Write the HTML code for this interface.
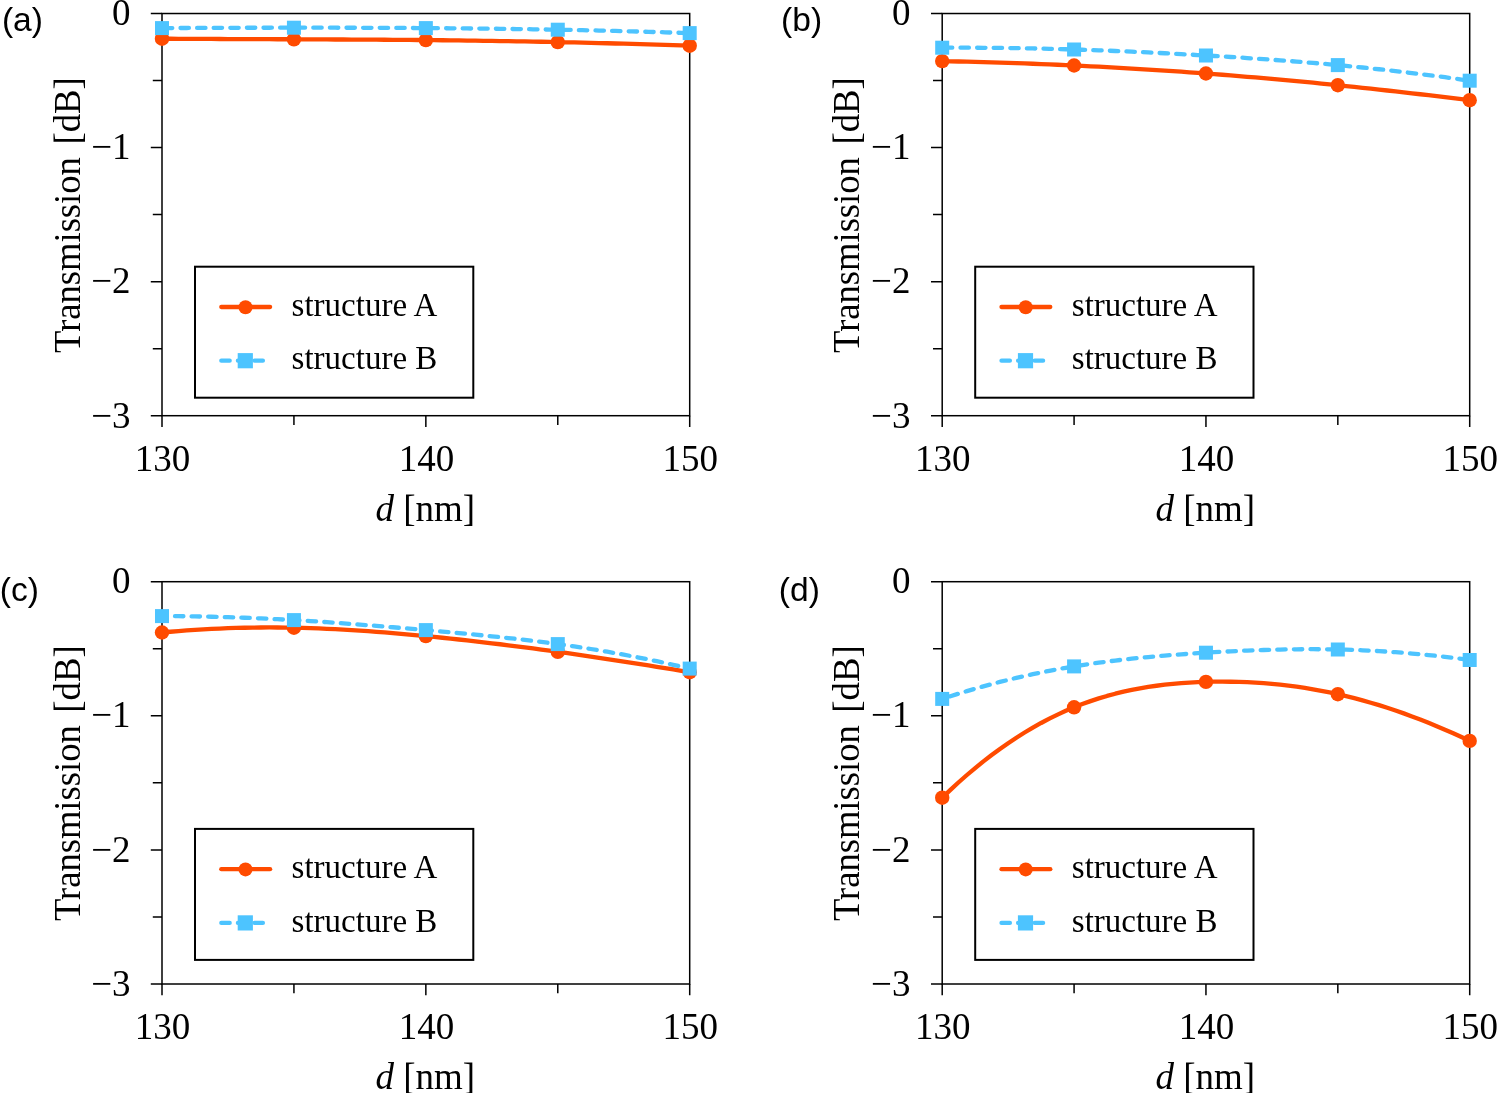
<!DOCTYPE html>
<html lang="en">
<head>
<meta charset="utf-8">
<title>Transmission vs d</title>
<style>
html,body{margin:0;padding:0;background:#fff;}
body{width:1497px;height:1093px;overflow:hidden;}
svg{display:block;}
.tk{font-family:"Liberation Serif", serif;font-size:37.0px;fill:#000;}
.lb{font-family:"Liberation Serif", serif;font-size:37.0px;fill:#000;}
.lg{font-family:"Liberation Serif", serif;font-size:33.0px;fill:#000;}
.pl{font-family:"Liberation Sans", sans-serif;font-size:33.6px;fill:#000;}
</style>
</head>
<body>
<svg width="1497" height="1093" viewBox="0 0 1497 1093">
<rect x="0" y="0" width="1497" height="1093" fill="#fff"/>
<g class="panel">
<rect x="162" y="13.52" width="527.7" height="402.18" fill="none" stroke="#000" stroke-width="1.5"/>
<path d="M162 13.52h-11.2 M162 80.55h-9.2 M162 147.58h-11.2 M162 214.61h-9.2 M162 281.64h-11.2 M162 348.67h-9.2 M162 415.7h-11.2 M162 415.7v11.2 M293.93 415.7v9.2 M425.85 415.7v11.2 M557.78 415.7v9.2 M689.7 415.7v11.2" stroke="#000" stroke-width="1.5" fill="none"/>
<path d="M162 38.7 L170.25 38.75 L178.49 38.8 L186.74 38.84 L194.98 38.89 L203.23 38.93 L211.47 38.96 L219.72 39 L227.96 39.04 L236.21 39.07 L244.45 39.11 L252.7 39.14 L260.94 39.17 L269.19 39.2 L277.43 39.24 L285.68 39.27 L293.93 39.3 L302.17 39.33 L310.42 39.37 L318.66 39.4 L326.91 39.44 L335.15 39.48 L343.4 39.52 L351.64 39.56 L359.89 39.61 L368.13 39.66 L376.38 39.71 L384.62 39.76 L392.87 39.82 L401.11 39.88 L409.36 39.95 L417.6 40.02 L425.85 40.1 L434.1 40.18 L442.34 40.27 L450.59 40.36 L458.83 40.46 L467.08 40.56 L475.32 40.67 L483.57 40.79 L491.81 40.91 L500.06 41.04 L508.3 41.17 L516.55 41.31 L524.79 41.46 L533.04 41.61 L541.28 41.76 L549.53 41.93 L557.78 42.1 L566.02 42.28 L574.27 42.46 L582.51 42.65 L590.76 42.85 L599 43.05 L607.25 43.26 L615.49 43.48 L623.74 43.7 L631.98 43.93 L640.23 44.16 L648.47 44.41 L656.72 44.65 L664.96 44.91 L673.21 45.16 L681.45 45.43 L689.7 45.7" fill="none" stroke="#FF4B00" stroke-width="4.3" stroke-linecap="round" stroke-linejoin="round"/>
<circle cx="162" cy="38.7" r="7.2" fill="#FF4B00"/>
<circle cx="293.93" cy="39.3" r="7.2" fill="#FF4B00"/>
<circle cx="425.85" cy="40.1" r="7.2" fill="#FF4B00"/>
<circle cx="557.78" cy="42.1" r="7.2" fill="#FF4B00"/>
<circle cx="689.7" cy="45.7" r="7.2" fill="#FF4B00"/>
<path d="M162 28.1 L170.25 28.06 L178.49 28.02 L186.74 27.98 L194.98 27.95 L203.23 27.91 L211.47 27.88 L219.72 27.85 L227.96 27.83 L236.21 27.8 L244.45 27.78 L252.7 27.76 L260.94 27.74 L269.19 27.73 L277.43 27.71 L285.68 27.71 L293.93 27.7 L302.17 27.7 L310.42 27.7 L318.66 27.7 L326.91 27.71 L335.15 27.72 L343.4 27.74 L351.64 27.76 L359.89 27.78 L368.13 27.8 L376.38 27.83 L384.62 27.87 L392.87 27.91 L401.11 27.95 L409.36 28 L417.6 28.05 L425.85 28.1 L434.1 28.16 L442.34 28.22 L450.59 28.29 L458.83 28.36 L467.08 28.44 L475.32 28.53 L483.57 28.61 L491.81 28.71 L500.06 28.81 L508.3 28.92 L516.55 29.03 L524.79 29.15 L533.04 29.28 L541.28 29.41 L549.53 29.55 L557.78 29.7 L566.02 29.86 L574.27 30.02 L582.51 30.19 L590.76 30.37 L599 30.55 L607.25 30.75 L615.49 30.95 L623.74 31.16 L631.98 31.37 L640.23 31.6 L648.47 31.83 L656.72 32.07 L664.96 32.31 L673.21 32.57 L681.45 32.83 L689.7 33.1" fill="none" stroke="#4DC4FF" stroke-width="4.3" stroke-linecap="round" stroke-linejoin="round" stroke-dasharray="8.4 8.2" stroke-dashoffset="-1.9"/>
<rect x="155" y="21.1" width="14.0" height="14.0" fill="#4DC4FF"/>
<rect x="286.93" y="20.7" width="14.0" height="14.0" fill="#4DC4FF"/>
<rect x="418.85" y="21.1" width="14.0" height="14.0" fill="#4DC4FF"/>
<rect x="550.78" y="22.7" width="14.0" height="14.0" fill="#4DC4FF"/>
<rect x="682.7" y="26.1" width="14.0" height="14.0" fill="#4DC4FF"/>
<text class="tk" x="130.6" y="25.2" text-anchor="end">0</text>
<text class="tk" x="130.6" y="159.33" text-anchor="end">−1</text>
<text class="tk" x="130.6" y="293.47" text-anchor="end">−2</text>
<text class="tk" x="130.6" y="427.6" text-anchor="end">−3</text>
<text class="tk" x="162.6" y="471.1" text-anchor="middle">130</text>
<text class="tk" x="426.45" y="471.1" text-anchor="middle">140</text>
<text class="tk" x="690.3" y="471.1" text-anchor="middle">150</text>
<text class="lb" x="425.25" y="520.6" text-anchor="middle"><tspan font-style="italic">d</tspan> [nm]</text>
<text class="lb" transform="translate(79.6 352.9) rotate(-90)"><tspan textLength="195.7" lengthAdjust="spacingAndGlyphs">Transmission</tspan><tspan dx="3.4" textLength="76.6" lengthAdjust="spacingAndGlyphs"> [dB]</tspan></text>
<rect x="195" y="266.7" width="278.3" height="131" fill="#fff" stroke="#000" stroke-width="2"/>
<path d="M221.3 307h48.8" stroke="#FF4B00" stroke-width="4.3" stroke-linecap="round" fill="none"/>
<circle cx="245.5" cy="307.2" r="7.0" fill="#FF4B00"/>
<path d="M221.3 360.7h48" stroke="#4DC4FF" stroke-width="4.3" stroke-linecap="round" fill="none" stroke-dasharray="8.4 8.2"/>
<rect x="237.7" y="353.1" width="15.2" height="15.2" fill="#4DC4FF"/>
<text class="lg" x="291.6" y="315.7">structure A</text>
<text class="lg" x="291.6" y="369.4">structure B</text>
<text class="pl" x="1.9" y="30.9">(a)</text>
</g>
<g class="panel">
<rect x="942.2" y="13.52" width="527.5" height="402.18" fill="none" stroke="#000" stroke-width="1.5"/>
<path d="M942.2 13.52h-11.2 M942.2 80.55h-9.2 M942.2 147.58h-11.2 M942.2 214.61h-9.2 M942.2 281.64h-11.2 M942.2 348.67h-9.2 M942.2 415.7h-11.2 M942.2 415.7v11.2 M1074.08 415.7v9.2 M1205.95 415.7v11.2 M1337.83 415.7v9.2 M1469.7 415.7v11.2" stroke="#000" stroke-width="1.5" fill="none"/>
<path d="M942.2 61.1 L950.44 61.28 L958.68 61.48 L966.93 61.69 L975.17 61.9 L983.41 62.13 L991.65 62.38 L999.9 62.63 L1008.14 62.89 L1016.38 63.17 L1024.62 63.46 L1032.86 63.77 L1041.11 64.09 L1049.35 64.42 L1057.59 64.77 L1065.83 65.13 L1074.08 65.5 L1082.32 65.89 L1090.56 66.29 L1098.8 66.71 L1107.04 67.15 L1115.29 67.6 L1123.53 68.06 L1131.77 68.54 L1140.01 69.03 L1148.25 69.54 L1156.5 70.06 L1164.74 70.6 L1172.98 71.15 L1181.22 71.71 L1189.47 72.29 L1197.71 72.89 L1205.95 73.5 L1214.19 74.12 L1222.43 74.76 L1230.68 75.42 L1238.92 76.09 L1247.16 76.77 L1255.4 77.46 L1263.65 78.18 L1271.89 78.9 L1280.13 79.64 L1288.37 80.39 L1296.61 81.16 L1304.86 81.94 L1313.1 82.73 L1321.34 83.54 L1329.58 84.36 L1337.83 85.2 L1346.07 86.05 L1354.31 86.91 L1362.55 87.79 L1370.79 88.67 L1379.04 89.57 L1387.28 90.49 L1395.52 91.41 L1403.76 92.34 L1412 93.29 L1420.25 94.25 L1428.49 95.22 L1436.73 96.19 L1444.97 97.18 L1453.22 98.18 L1461.46 99.18 L1469.7 100.2" fill="none" stroke="#FF4B00" stroke-width="4.3" stroke-linecap="round" stroke-linejoin="round"/>
<circle cx="942.2" cy="61.1" r="7.2" fill="#FF4B00"/>
<circle cx="1074.08" cy="65.5" r="7.2" fill="#FF4B00"/>
<circle cx="1205.95" cy="73.5" r="7.2" fill="#FF4B00"/>
<circle cx="1337.83" cy="85.2" r="7.2" fill="#FF4B00"/>
<circle cx="1469.7" cy="100.2" r="7.2" fill="#FF4B00"/>
<path d="M942.2 47.7 L950.44 47.68 L958.68 47.68 L966.93 47.7 L975.17 47.73 L983.41 47.78 L991.65 47.85 L999.9 47.94 L1008.14 48.04 L1016.38 48.16 L1024.62 48.3 L1032.86 48.46 L1041.11 48.63 L1049.35 48.82 L1057.59 49.03 L1065.83 49.26 L1074.08 49.5 L1082.32 49.76 L1090.56 50.04 L1098.8 50.34 L1107.04 50.65 L1115.29 50.98 L1123.53 51.32 L1131.77 51.68 L1140.01 52.05 L1148.25 52.44 L1156.5 52.84 L1164.74 53.25 L1172.98 53.68 L1181.22 54.12 L1189.47 54.57 L1197.71 55.03 L1205.95 55.5 L1214.19 55.98 L1222.43 56.48 L1230.68 56.98 L1238.92 57.5 L1247.16 58.03 L1255.4 58.58 L1263.65 59.15 L1271.89 59.73 L1280.13 60.33 L1288.37 60.94 L1296.61 61.58 L1304.86 62.24 L1313.1 62.92 L1321.34 63.62 L1329.58 64.35 L1337.83 65.1 L1346.07 65.88 L1354.31 66.68 L1362.55 67.5 L1370.79 68.36 L1379.04 69.24 L1387.28 70.14 L1395.52 71.08 L1403.76 72.04 L1412 73.02 L1420.25 74.04 L1428.49 75.08 L1436.73 76.15 L1444.97 77.24 L1453.22 78.37 L1461.46 79.52 L1469.7 80.7" fill="none" stroke="#4DC4FF" stroke-width="4.3" stroke-linecap="round" stroke-linejoin="round" stroke-dasharray="8.4 8.2" stroke-dashoffset="-1.7"/>
<rect x="935.2" y="40.7" width="14.0" height="14.0" fill="#4DC4FF"/>
<rect x="1067.08" y="42.5" width="14.0" height="14.0" fill="#4DC4FF"/>
<rect x="1198.95" y="48.5" width="14.0" height="14.0" fill="#4DC4FF"/>
<rect x="1330.83" y="58.1" width="14.0" height="14.0" fill="#4DC4FF"/>
<rect x="1462.7" y="73.7" width="14.0" height="14.0" fill="#4DC4FF"/>
<text class="tk" x="910.4" y="25.2" text-anchor="end">0</text>
<text class="tk" x="910.4" y="159.33" text-anchor="end">−1</text>
<text class="tk" x="910.4" y="293.47" text-anchor="end">−2</text>
<text class="tk" x="910.4" y="427.6" text-anchor="end">−3</text>
<text class="tk" x="942.8" y="471.1" text-anchor="middle">130</text>
<text class="tk" x="1206.55" y="471.1" text-anchor="middle">140</text>
<text class="tk" x="1470.3" y="471.1" text-anchor="middle">150</text>
<text class="lb" x="1205.35" y="520.6" text-anchor="middle"><tspan font-style="italic">d</tspan> [nm]</text>
<text class="lb" transform="translate(859.4 352.9) rotate(-90)"><tspan textLength="195.7" lengthAdjust="spacingAndGlyphs">Transmission</tspan><tspan dx="3.4" textLength="76.6" lengthAdjust="spacingAndGlyphs"> [dB]</tspan></text>
<rect x="975.2" y="266.7" width="278.3" height="131" fill="#fff" stroke="#000" stroke-width="2"/>
<path d="M1001.5 307h48.8" stroke="#FF4B00" stroke-width="4.3" stroke-linecap="round" fill="none"/>
<circle cx="1025.7" cy="307.2" r="7.0" fill="#FF4B00"/>
<path d="M1001.5 360.7h48" stroke="#4DC4FF" stroke-width="4.3" stroke-linecap="round" fill="none" stroke-dasharray="8.4 8.2"/>
<rect x="1017.9" y="353.1" width="15.2" height="15.2" fill="#4DC4FF"/>
<text class="lg" x="1071.8" y="315.7">structure A</text>
<text class="lg" x="1071.8" y="369.4">structure B</text>
<text class="pl" x="781.1" y="30.9">(b)</text>
</g>
<g class="panel">
<rect x="162" y="581.7" width="527.7" height="402.3" fill="none" stroke="#000" stroke-width="1.5"/>
<path d="M162 581.7h-11.2 M162 648.75h-9.2 M162 715.8h-11.2 M162 782.85h-9.2 M162 849.9h-11.2 M162 916.95h-9.2 M162 984h-11.2 M162 984v11.2 M293.93 984v9.2 M425.85 984v11.2 M557.78 984v9.2 M689.7 984v11.2" stroke="#000" stroke-width="1.5" fill="none"/>
<path d="M162 632.5 L170.25 631.75 L178.49 631.06 L186.74 630.44 L194.98 629.87 L203.23 629.37 L211.47 628.92 L219.72 628.54 L227.96 628.21 L236.21 627.95 L244.45 627.74 L252.7 627.59 L260.94 627.5 L269.19 627.46 L277.43 627.49 L285.68 627.56 L293.93 627.7 L302.17 627.89 L310.42 628.14 L318.66 628.43 L326.91 628.78 L335.15 629.17 L343.4 629.61 L351.64 630.1 L359.89 630.62 L368.13 631.19 L376.38 631.79 L384.62 632.43 L392.87 633.11 L401.11 633.81 L409.36 634.55 L417.6 635.31 L425.85 636.1 L434.1 636.91 L442.34 637.75 L450.59 638.61 L458.83 639.5 L467.08 640.4 L475.32 641.33 L483.57 642.28 L491.81 643.26 L500.06 644.25 L508.3 645.27 L516.55 646.31 L524.79 647.37 L533.04 648.44 L541.28 649.54 L549.53 650.66 L557.78 651.8 L566.02 652.96 L574.27 654.13 L582.51 655.33 L590.76 656.54 L599 657.77 L607.25 659.01 L615.49 660.27 L623.74 661.55 L631.98 662.83 L640.23 664.14 L648.47 665.45 L656.72 666.78 L664.96 668.12 L673.21 669.47 L681.45 670.83 L689.7 672.2" fill="none" stroke="#FF4B00" stroke-width="4.3" stroke-linecap="round" stroke-linejoin="round"/>
<circle cx="162" cy="632.5" r="7.2" fill="#FF4B00"/>
<circle cx="293.93" cy="627.7" r="7.2" fill="#FF4B00"/>
<circle cx="425.85" cy="636.1" r="7.2" fill="#FF4B00"/>
<circle cx="557.78" cy="651.8" r="7.2" fill="#FF4B00"/>
<circle cx="689.7" cy="672.2" r="7.2" fill="#FF4B00"/>
<path d="M162 616.1 L170.25 616.13 L178.49 616.19 L186.74 616.28 L194.98 616.4 L203.23 616.55 L211.47 616.73 L219.72 616.94 L227.96 617.18 L236.21 617.45 L244.45 617.75 L252.7 618.07 L260.94 618.42 L269.19 618.8 L277.43 619.21 L285.68 619.64 L293.93 620.1 L302.17 620.58 L310.42 621.09 L318.66 621.63 L326.91 622.18 L335.15 622.76 L343.4 623.35 L351.64 623.97 L359.89 624.6 L368.13 625.24 L376.38 625.9 L384.62 626.58 L392.87 627.26 L401.11 627.96 L409.36 628.66 L417.6 629.38 L425.85 630.1 L434.1 630.83 L442.34 631.56 L450.59 632.31 L458.83 633.07 L467.08 633.84 L475.32 634.64 L483.57 635.45 L491.81 636.29 L500.06 637.15 L508.3 638.04 L516.55 638.96 L524.79 639.91 L533.04 640.9 L541.28 641.92 L549.53 642.99 L557.78 644.1 L566.02 645.25 L574.27 646.45 L582.51 647.7 L590.76 649 L599 650.34 L607.25 651.73 L615.49 653.18 L623.74 654.67 L631.98 656.22 L640.23 657.82 L648.47 659.48 L656.72 661.19 L664.96 662.95 L673.21 664.78 L681.45 666.66 L689.7 668.6" fill="none" stroke="#4DC4FF" stroke-width="4.3" stroke-linecap="round" stroke-linejoin="round" stroke-dasharray="8.4 8.2" stroke-dashoffset="3.6"/>
<rect x="155" y="609.1" width="14.0" height="14.0" fill="#4DC4FF"/>
<rect x="286.93" y="613.1" width="14.0" height="14.0" fill="#4DC4FF"/>
<rect x="418.85" y="623.1" width="14.0" height="14.0" fill="#4DC4FF"/>
<rect x="550.78" y="637.1" width="14.0" height="14.0" fill="#4DC4FF"/>
<rect x="682.7" y="661.6" width="14.0" height="14.0" fill="#4DC4FF"/>
<text class="tk" x="130.6" y="593.3" text-anchor="end">0</text>
<text class="tk" x="130.6" y="727.43" text-anchor="end">−1</text>
<text class="tk" x="130.6" y="861.57" text-anchor="end">−2</text>
<text class="tk" x="130.6" y="995.7" text-anchor="end">−3</text>
<text class="tk" x="162.6" y="1039.15" text-anchor="middle">130</text>
<text class="tk" x="426.45" y="1039.15" text-anchor="middle">140</text>
<text class="tk" x="690.3" y="1039.15" text-anchor="middle">150</text>
<text class="lb" x="425.25" y="1088.65" text-anchor="middle"><tspan font-style="italic">d</tspan> [nm]</text>
<text class="lb" transform="translate(79.6 921) rotate(-90)"><tspan textLength="195.7" lengthAdjust="spacingAndGlyphs">Transmission</tspan><tspan dx="3.4" textLength="76.6" lengthAdjust="spacingAndGlyphs"> [dB]</tspan></text>
<rect x="195" y="828.9" width="278.3" height="131" fill="#fff" stroke="#000" stroke-width="2"/>
<path d="M221.3 869.2h48.8" stroke="#FF4B00" stroke-width="4.3" stroke-linecap="round" fill="none"/>
<circle cx="245.5" cy="869.4" r="7.0" fill="#FF4B00"/>
<path d="M221.3 922.9h48" stroke="#4DC4FF" stroke-width="4.3" stroke-linecap="round" fill="none" stroke-dasharray="8.4 8.2"/>
<rect x="237.7" y="915.3" width="15.2" height="15.2" fill="#4DC4FF"/>
<text class="lg" x="291.6" y="877.9">structure A</text>
<text class="lg" x="291.6" y="931.6">structure B</text>
<text class="pl" x="-0.2" y="600.8">(c)</text>
</g>
<g class="panel">
<rect x="942.2" y="581.7" width="527.5" height="402.3" fill="none" stroke="#000" stroke-width="1.5"/>
<path d="M942.2 581.7h-11.2 M942.2 648.75h-9.2 M942.2 715.8h-11.2 M942.2 782.85h-9.2 M942.2 849.9h-11.2 M942.2 916.95h-9.2 M942.2 984h-11.2 M942.2 984v11.2 M1074.08 984v9.2 M1205.95 984v11.2 M1337.83 984v9.2 M1469.7 984v11.2" stroke="#000" stroke-width="1.5" fill="none"/>
<path d="M942.2 797.7 L950.44 789.83 L958.68 782.27 L966.93 775.01 L975.17 768.05 L983.41 761.39 L991.65 755.03 L999.9 748.96 L1008.14 743.19 L1016.38 737.7 L1024.62 732.51 L1032.86 727.6 L1041.11 722.98 L1049.35 718.64 L1057.59 714.58 L1065.83 710.8 L1074.08 707.3 L1082.32 704.07 L1090.56 701.11 L1098.8 698.4 L1107.04 695.94 L1115.29 693.71 L1123.53 691.71 L1131.77 689.92 L1140.01 688.34 L1148.25 686.95 L1156.5 685.75 L1164.74 684.73 L1172.98 683.87 L1181.22 683.17 L1189.47 682.61 L1197.71 682.19 L1205.95 681.9 L1214.19 681.72 L1222.43 681.67 L1230.68 681.73 L1238.92 681.91 L1247.16 682.22 L1255.4 682.65 L1263.65 683.21 L1271.89 683.89 L1280.13 684.71 L1288.37 685.66 L1296.61 686.74 L1304.86 687.95 L1313.1 689.31 L1321.34 690.8 L1329.58 692.43 L1337.83 694.2 L1346.07 696.12 L1354.31 698.17 L1362.55 700.37 L1370.79 702.71 L1379.04 705.18 L1387.28 707.79 L1395.52 710.53 L1403.76 713.4 L1412 716.4 L1420.25 719.53 L1428.49 722.79 L1436.73 726.17 L1444.97 729.67 L1453.22 733.29 L1461.46 737.04 L1469.7 740.9" fill="none" stroke="#FF4B00" stroke-width="4.3" stroke-linecap="round" stroke-linejoin="round"/>
<circle cx="942.2" cy="797.7" r="7.2" fill="#FF4B00"/>
<circle cx="1074.08" cy="707.3" r="7.2" fill="#FF4B00"/>
<circle cx="1205.95" cy="681.9" r="7.2" fill="#FF4B00"/>
<circle cx="1337.83" cy="694.2" r="7.2" fill="#FF4B00"/>
<circle cx="1469.7" cy="740.9" r="7.2" fill="#FF4B00"/>
<path d="M942.2 698.9 L950.44 696.2 L958.68 693.6 L966.93 691.09 L975.17 688.66 L983.41 686.33 L991.65 684.09 L999.9 681.94 L1008.14 679.87 L1016.38 677.89 L1024.62 676 L1032.86 674.19 L1041.11 672.47 L1049.35 670.83 L1057.59 669.27 L1065.83 667.8 L1074.08 666.4 L1082.32 665.08 L1090.56 663.85 L1098.8 662.68 L1107.04 661.59 L1115.29 660.56 L1123.53 659.59 L1131.77 658.69 L1140.01 657.84 L1148.25 657.04 L1156.5 656.3 L1164.74 655.6 L1172.98 654.95 L1181.22 654.33 L1189.47 653.76 L1197.71 653.21 L1205.95 652.7 L1214.19 652.21 L1222.43 651.76 L1230.68 651.33 L1238.92 650.94 L1247.16 650.58 L1255.4 650.26 L1263.65 649.98 L1271.89 649.74 L1280.13 649.54 L1288.37 649.38 L1296.61 649.28 L1304.86 649.22 L1313.1 649.21 L1321.34 649.25 L1329.58 649.35 L1337.83 649.5 L1346.07 649.71 L1354.31 649.98 L1362.55 650.31 L1370.79 650.69 L1379.04 651.14 L1387.28 651.64 L1395.52 652.21 L1403.76 652.83 L1412 653.52 L1420.25 654.26 L1428.49 655.06 L1436.73 655.93 L1444.97 656.85 L1453.22 657.84 L1461.46 658.89 L1469.7 660" fill="none" stroke="#4DC4FF" stroke-width="4.3" stroke-linecap="round" stroke-linejoin="round" stroke-dasharray="8.4 8.2" stroke-dashoffset="8.6"/>
<rect x="935.2" y="691.9" width="14.0" height="14.0" fill="#4DC4FF"/>
<rect x="1067.08" y="659.4" width="14.0" height="14.0" fill="#4DC4FF"/>
<rect x="1198.95" y="645.7" width="14.0" height="14.0" fill="#4DC4FF"/>
<rect x="1330.83" y="642.5" width="14.0" height="14.0" fill="#4DC4FF"/>
<rect x="1462.7" y="653" width="14.0" height="14.0" fill="#4DC4FF"/>
<text class="tk" x="910.4" y="593.3" text-anchor="end">0</text>
<text class="tk" x="910.4" y="727.43" text-anchor="end">−1</text>
<text class="tk" x="910.4" y="861.57" text-anchor="end">−2</text>
<text class="tk" x="910.4" y="995.7" text-anchor="end">−3</text>
<text class="tk" x="942.8" y="1039.15" text-anchor="middle">130</text>
<text class="tk" x="1206.55" y="1039.15" text-anchor="middle">140</text>
<text class="tk" x="1470.3" y="1039.15" text-anchor="middle">150</text>
<text class="lb" x="1205.35" y="1088.65" text-anchor="middle"><tspan font-style="italic">d</tspan> [nm]</text>
<text class="lb" transform="translate(859.4 921) rotate(-90)"><tspan textLength="195.7" lengthAdjust="spacingAndGlyphs">Transmission</tspan><tspan dx="3.4" textLength="76.6" lengthAdjust="spacingAndGlyphs"> [dB]</tspan></text>
<rect x="975.2" y="828.9" width="278.3" height="131" fill="#fff" stroke="#000" stroke-width="2"/>
<path d="M1001.5 869.2h48.8" stroke="#FF4B00" stroke-width="4.3" stroke-linecap="round" fill="none"/>
<circle cx="1025.7" cy="869.4" r="7.0" fill="#FF4B00"/>
<path d="M1001.5 922.9h48" stroke="#4DC4FF" stroke-width="4.3" stroke-linecap="round" fill="none" stroke-dasharray="8.4 8.2"/>
<rect x="1017.9" y="915.3" width="15.2" height="15.2" fill="#4DC4FF"/>
<text class="lg" x="1071.8" y="877.9">structure A</text>
<text class="lg" x="1071.8" y="931.6">structure B</text>
<text class="pl" x="778.8" y="600.8">(d)</text>
</g>
</svg>
</body>
</html>
